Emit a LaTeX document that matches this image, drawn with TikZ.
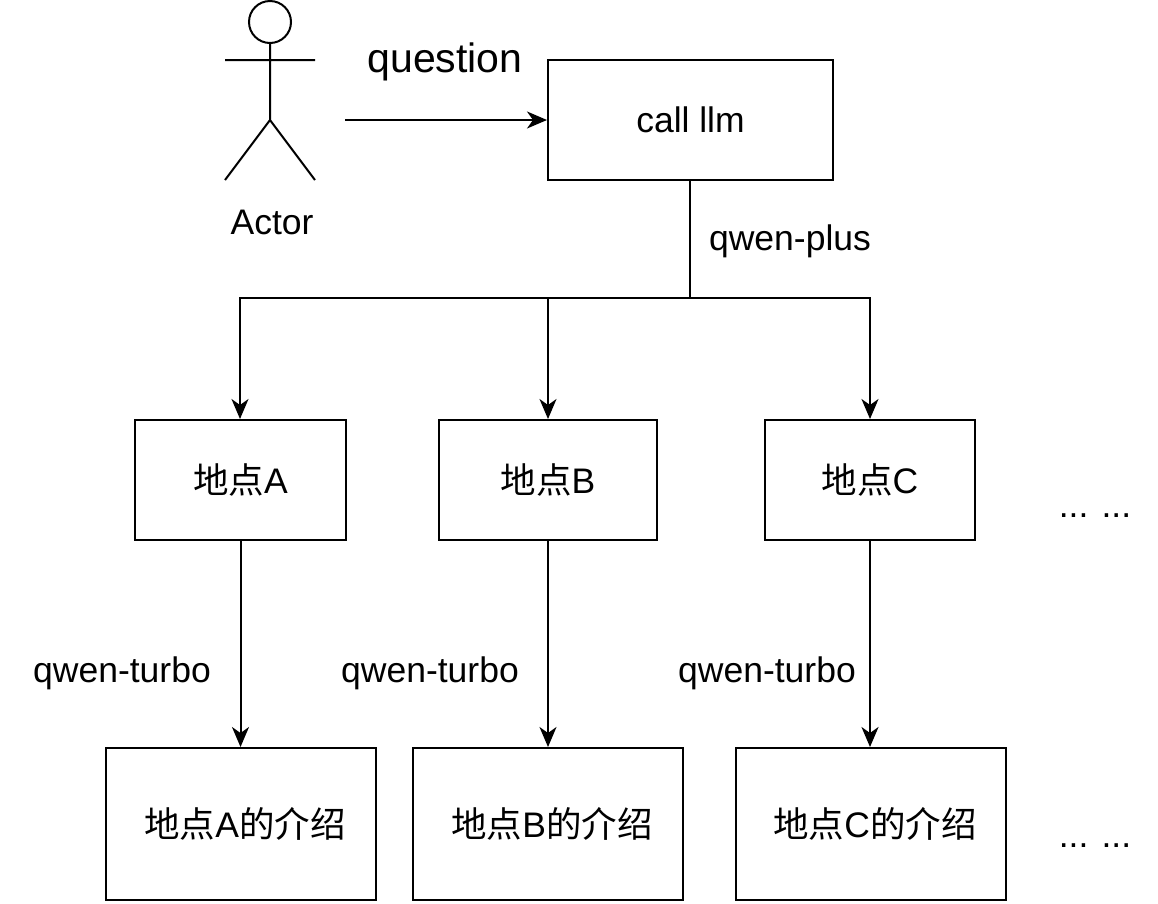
\documentclass[tikz,border=0pt]{standalone}
\usepackage{fontspec}
\setmainfont{Liberation Sans}
\newfontfamily\cjk{Noto Sans CJK SC}
\usetikzlibrary{arrows.meta}
\begin{document}
\begin{tikzpicture}[x=1pt,y=-1pt,
  box/.style={draw,line width=2pt,inner sep=0pt,font=\fontsize{35.5}{40}\selectfont},
  lbl/.style={font=\fontsize{35.5}{40}\selectfont},
  arr/.style={line width=2pt,-{Stealth[length=20pt,width=17pt,inset=6pt]}},
  ln/.style={line width=2pt}]
\useasboundingbox (0,0) rectangle (1158,903);
% actor
\draw[ln] (270,22) circle (21);
\draw[ln] (270,43) -- (270,120) (225,60) -- (315,60) (225,180) -- (270,120) -- (315,180);
\node[lbl] (actorlbl) at (272,222) {Actor};
\coordinate (actor) at (345,120);
\node[font=\fontsize{41}{46}\selectfont] (q) at (445,62) {question};
% boxes
\node[box,minimum width=285pt,minimum height=120pt] (llm) at (690.5,120) {call llm};
\draw[arr] (actor) -- (actor-|llm.west);
\node[box,minimum width=211pt,minimum height=120pt] (a) at (240.5,480) {{\cjk 地点}A};
\node[box,minimum width=218pt,minimum height=120pt] (b) at (548,480) {{\cjk 地点}B};
\node[box,minimum width=210pt,minimum height=120pt] (c) at (870,480) {{\cjk 地点}C};
\node[box,minimum width=270pt,minimum height=152pt] (ai) at (241,824) {\hspace{8pt}{\cjk 地点}A{\cjk 的介绍}};
\node[box,minimum width=270pt,minimum height=152pt] (bi) at (548,824) {\hspace{8pt}{\cjk 地点}B{\cjk 的介绍}};
\node[box,minimum width=270pt,minimum height=152pt] (ci) at (871,824) {\hspace{8pt}{\cjk 地点}C{\cjk 的介绍}};
% tree
\coordinate (j) at (690,298);
\coordinate (jl) at (240,298);
\coordinate (jm) at (548,298);
\coordinate (jr) at (870,298);
\draw[ln] (j|-llm.south) -- (j);
\draw[ln,line cap=rect] (jl) -- (jr);
\draw[arr] (jl) -- (jl|-a.north);
\draw[arr] (jm) -- (jm|-b.north);
\draw[arr] (jr) -- (jr|-c.north);
\node[lbl] at (790,241) {qwen-plus};
\draw[arr] (a.south) -- (a.south|-ai.north);
\draw[arr] (b.south) -- (b.south|-bi.north);
\draw[arr] (c.south) -- (c.south|-ci.north);
\node[lbl] at (122,673) {qwen-turbo};
\node[lbl] at (430,673) {qwen-turbo};
\node[lbl] at (767,673) {qwen-turbo};
\node[lbl] at (1095,516) {... ...};
\node[lbl] at (1095,846) {... ...};
\end{tikzpicture}
\end{document}
